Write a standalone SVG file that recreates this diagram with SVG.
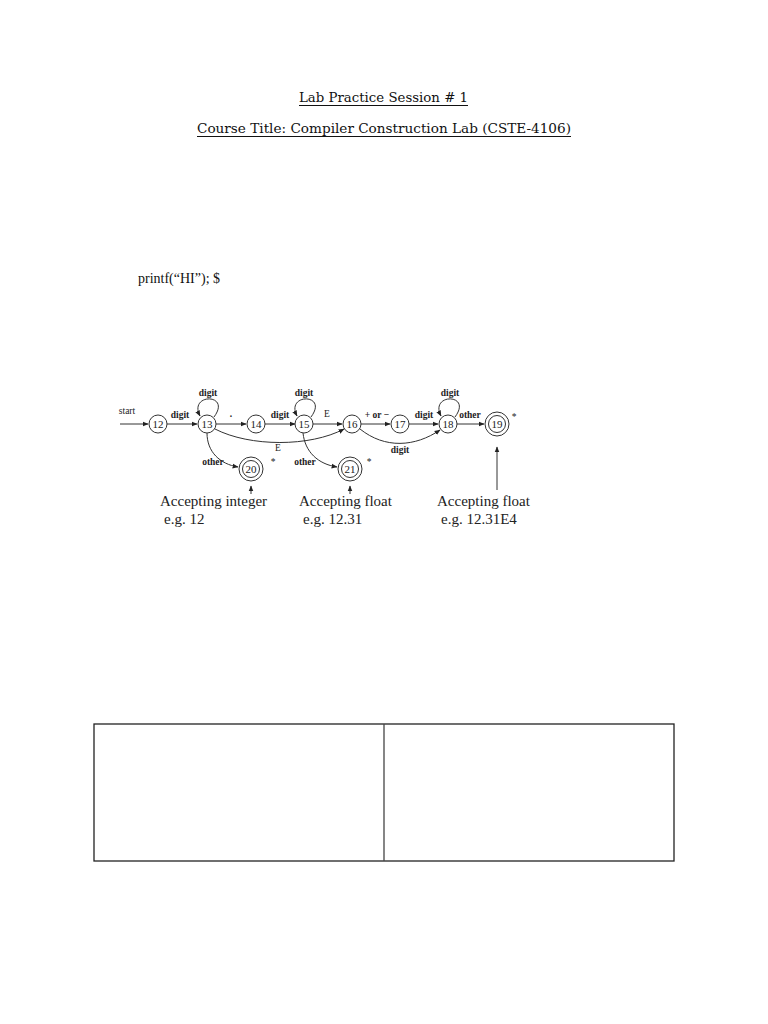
<svg xmlns="http://www.w3.org/2000/svg" width="768" height="1024" viewBox="0 0 768 1024">
<defs>
<marker id="ah" viewBox="0 0 10 10" refX="9" refY="5" markerWidth="6" markerHeight="6" orient="auto" markerUnits="userSpaceOnUse">
<path d="M0,1 L10,5 L0,9 z" fill="#222"/>
</marker>
<style>
.title{font-family:"DejaVu Serif","Liberation Serif",serif;font-size:13.5px;fill:#111}
.body{font-family:"Liberation Serif",serif;font-size:14px;fill:#111}
.cap{font-family:"Liberation Serif",serif;font-size:15px;fill:#222}
.st{fill:#fff;stroke:#333;stroke-width:1}
.nl{font-family:"Liberation Serif",serif;font-size:11px;fill:#222;text-anchor:middle}
.el{font-family:"Liberation Serif",serif;font-size:9.5px;font-weight:bold;fill:#222;text-anchor:middle}
.ep{font-family:"Liberation Serif",serif;font-size:9.5px;fill:#222;text-anchor:middle}
.e{fill:none;stroke:#333;stroke-width:1;marker-end:url(#ah)}
</style>
</defs>
<rect width="768" height="1024" fill="#fff"/>
<text class="title" x="299" y="102" textLength="169" lengthAdjust="spacingAndGlyphs">Lab Practice Session # 1</text>
<line x1="299" y1="105.5" x2="468" y2="105.5" stroke="#111" stroke-width="1"/>
<text class="title" x="197" y="133" textLength="374" lengthAdjust="spacingAndGlyphs">Course Title: Compiler Construction Lab (CSTE-4106)</text>
<line x1="197" y1="136.5" x2="571" y2="136.5" stroke="#111" stroke-width="1"/>
<text class="body" x="138" y="283">printf(“HI”); $</text>

<g id="connectors">
<path class="e" d="M120,424 L148,424"/>
<path class="e" d="M167,424 L197,424"/>
<path class="e" d="M214,417 C232,393 188,393 200,416"/>
<path class="e" d="M216,424 L246,424"/>
<path class="e" d="M265,424 L295,424"/>
<path class="e" d="M311,417 C329,393 285,393 297,416"/>
<path class="e" d="M313,424 L342,424"/>
<path class="e" d="M215,429 C250,447 310,447 344,429"/>
<path class="e" d="M361,424 L390,424"/>
<path class="e" d="M409,424 L438,424"/>
<path class="e" d="M360,429 C385,449 415,447 440,430"/>
<path class="e" d="M455,417 C473,393 429,393 441,416"/>
<path class="e" d="M457,424 L484,424"/>
<path class="e" d="M207,433 C207,452 220,464 238,467"/>
<path class="e" d="M303,433 C305,452 318,464 337,467"/>
<path class="e" d="M251,494 L251,486"/>
<path class="e" d="M350,494 L350,486"/>
<path class="e" d="M497,490 L497,447"/>
</g>
<g id="edge-labels">
<text class="ep" x="127" y="414">start</text>
<text class="el" x="180" y="418">digit</text>
<text class="el" x="208" y="396">digit</text>
<text class="el" x="231" y="417">.</text>
<text class="el" x="280" y="418">digit</text>
<text class="el" x="304" y="396">digit</text>
<text class="ep" x="327" y="417">E</text>
<text class="ep" x="278" y="451">E</text>
<text class="el" x="377" y="418">+ or −</text>
<text class="el" x="424" y="418">digit</text>
<text class="el" x="400" y="453">digit</text>
<text class="el" x="450" y="396">digit</text>
<text class="el" x="470" y="418">other</text>
<text class="el" x="213" y="465">other</text>
<text class="el" x="305" y="465">other</text>
<text class="ep" x="273" y="465">*</text>
<text class="ep" x="369" y="465">*</text>
<text class="ep" x="514" y="420">*</text>
</g>
<g id="n12"><circle class="st" cx="158" cy="424" r="9"/><text class="nl" x="158" y="428">12</text></g>
<g id="n13"><circle class="st" cx="207" cy="424" r="9"/><text class="nl" x="207" y="428">13</text></g>
<g id="n14"><circle class="st" cx="256" cy="424" r="9"/><text class="nl" x="256" y="428">14</text></g>
<g id="n15"><circle class="st" cx="304" cy="424" r="9"/><text class="nl" x="304" y="428">15</text></g>
<g id="n16"><circle class="st" cx="352" cy="424" r="9"/><text class="nl" x="352" y="428">16</text></g>
<g id="n17"><circle class="st" cx="400" cy="424" r="9"/><text class="nl" x="400" y="428">17</text></g>
<g id="n18"><circle class="st" cx="448" cy="424" r="9"/><text class="nl" x="448" y="428">18</text></g>
<g id="n19"><circle class="st" cx="497" cy="424" r="12"/><circle class="st" cx="497" cy="424" r="8.5"/><text class="nl" x="497" y="428">19</text></g>
<g id="n20"><circle class="st" cx="251" cy="469" r="12"/><circle class="st" cx="251" cy="469" r="8.5"/><text class="nl" x="251" y="473">20</text></g>
<g id="n21"><circle class="st" cx="350" cy="469" r="12"/><circle class="st" cx="350" cy="469" r="8.5"/><text class="nl" x="350" y="473">21</text></g>
<g id="captions">
<text class="cap" x="160" y="506">Accepting integer</text>
<text class="cap" x="164" y="524">e.g. 12</text>
<text class="cap" x="299" y="506">Accepting float</text>
<text class="cap" x="303" y="524">e.g. 12.31</text>
<text class="cap" x="437" y="506">Accepting float</text>
<text class="cap" x="441" y="524">e.g. 12.31E4</text>
</g>
<g id="table">
<rect x="94" y="724" width="580" height="137" fill="none" stroke="#222" stroke-width="1.3"/>
<line x1="384" y1="724" x2="384" y2="861" stroke="#444" stroke-width="1.3"/>
</g>
</svg>
